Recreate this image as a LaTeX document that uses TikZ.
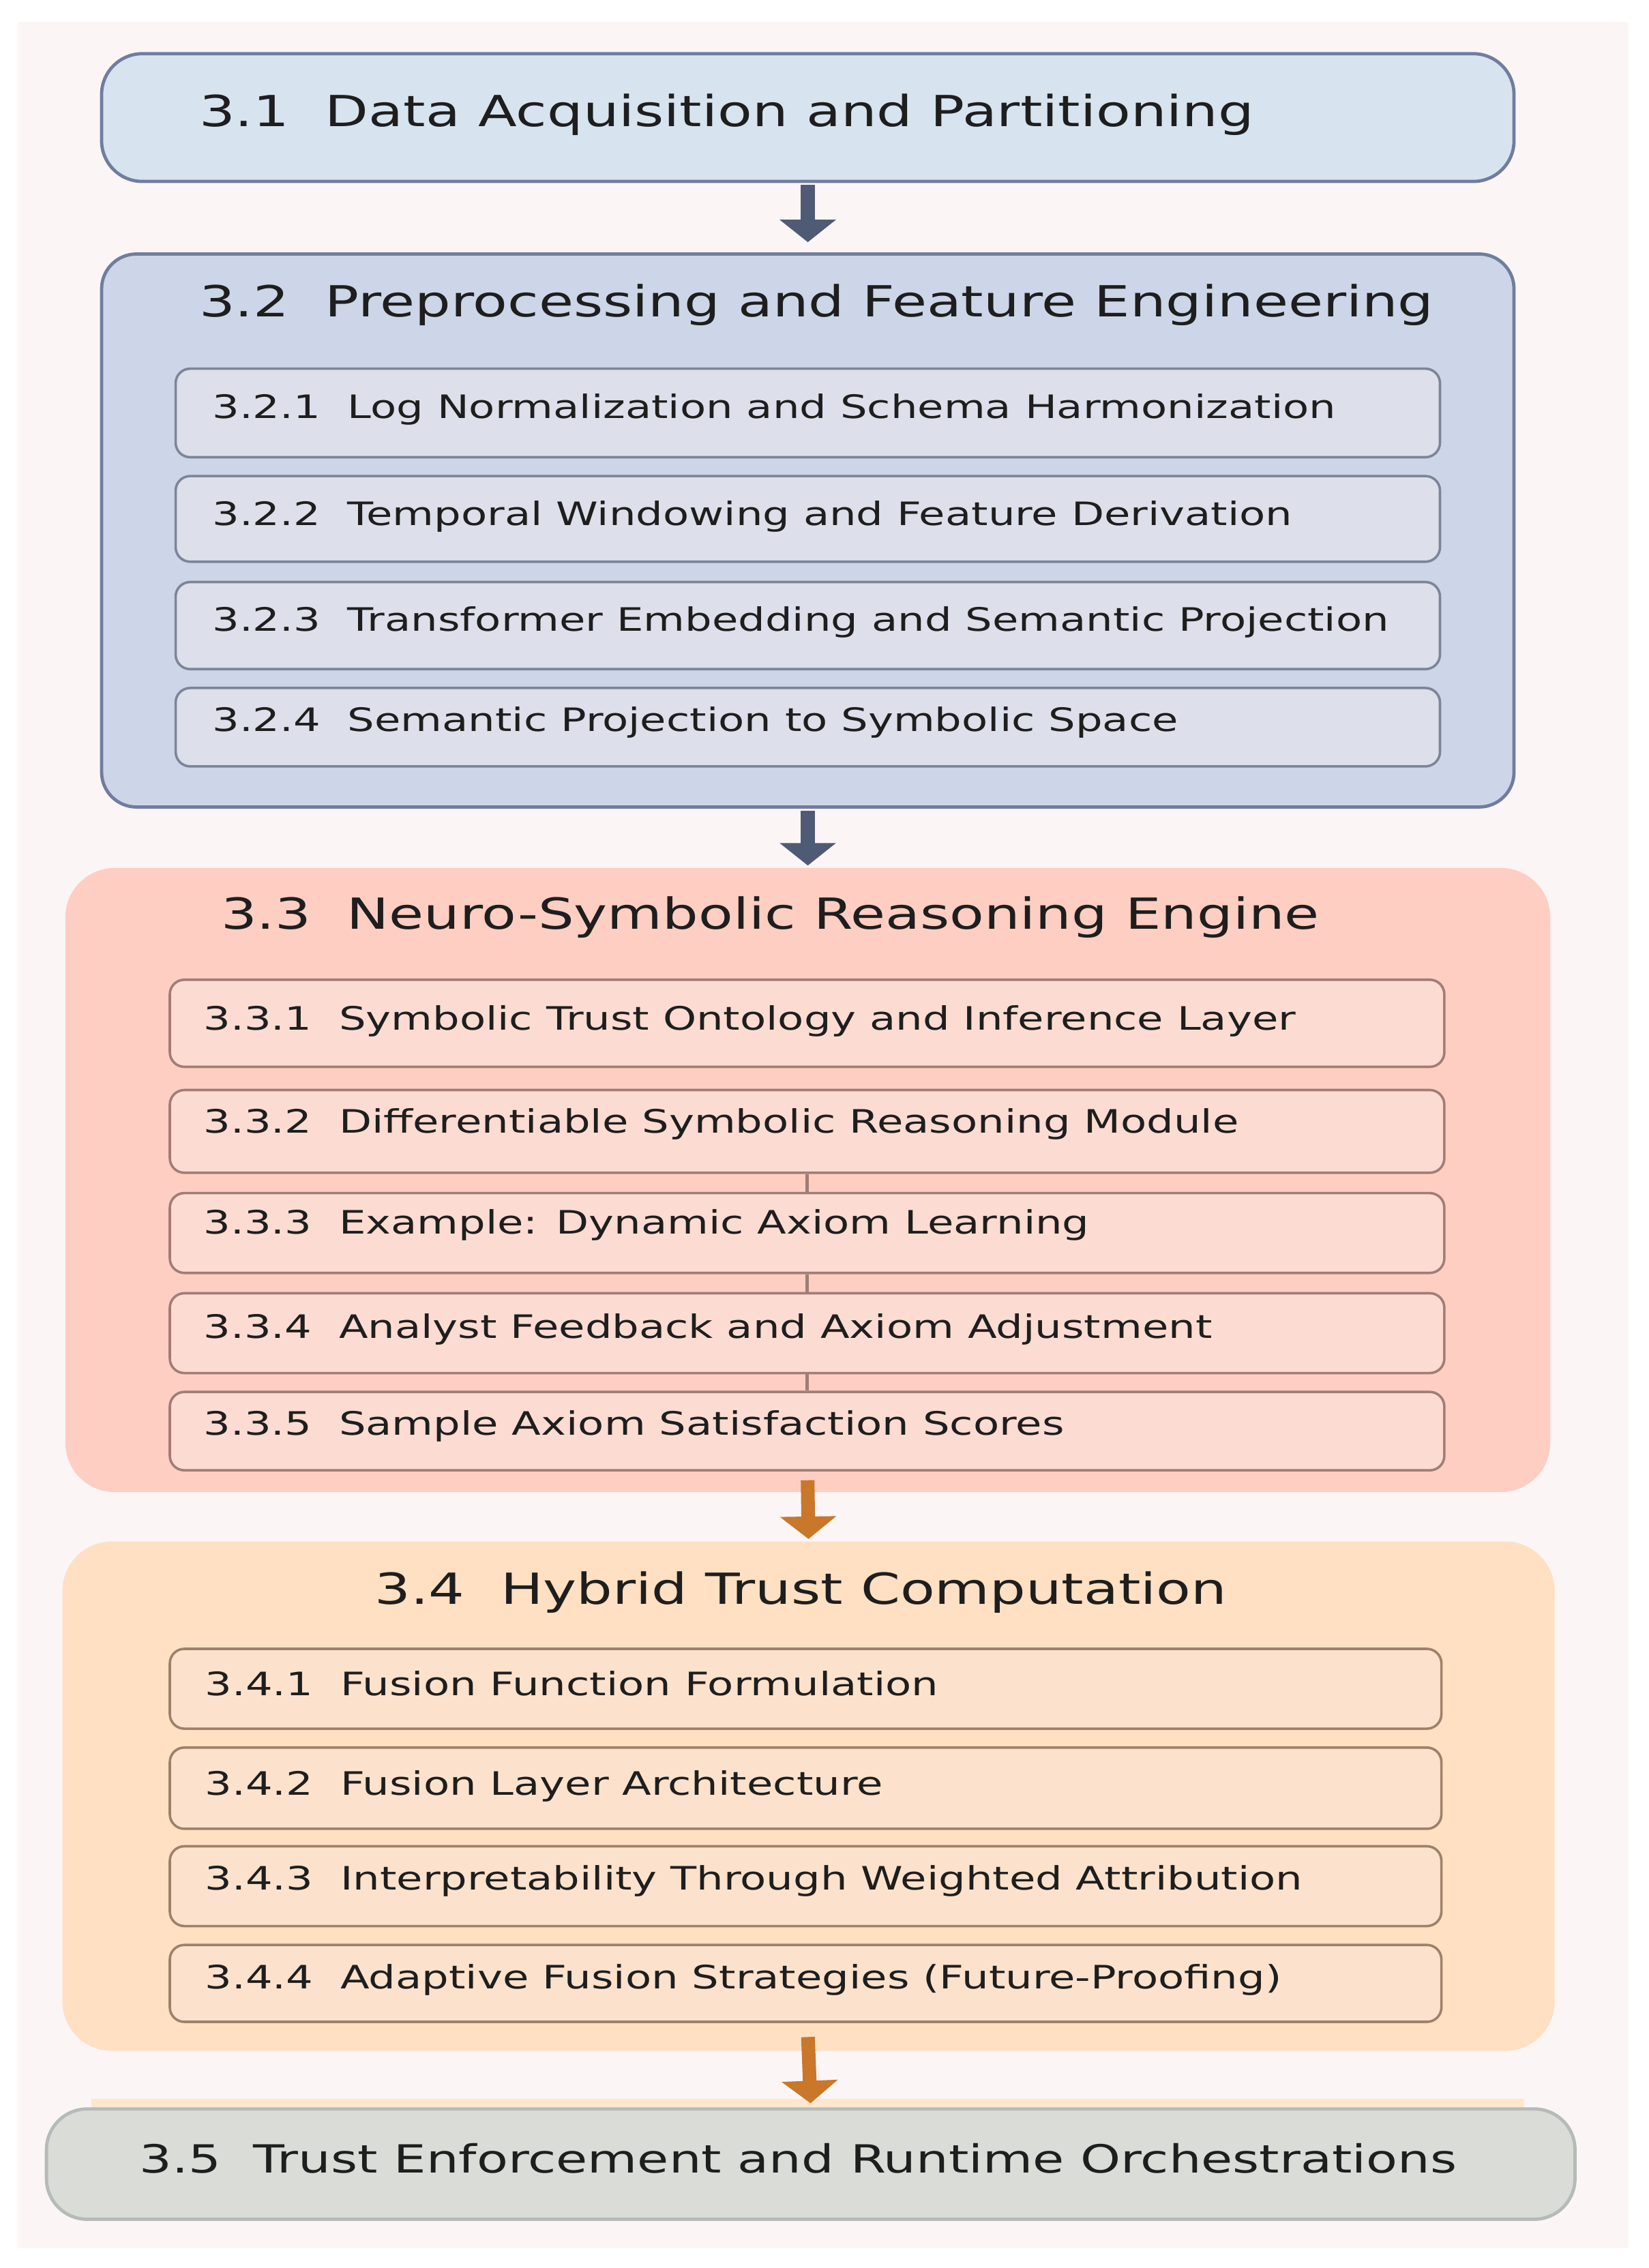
\documentclass[tikz,border=0pt]{standalone}
\usepackage{fontspec}
\setmainfont{DejaVu Sans}[FakeStretch=1.32]
\usetikzlibrary{arrows.meta,fit}
\definecolor{pagebg}{HTML}{FCF5F6}
\definecolor{bluefill}{HTML}{D8E3F0}
\definecolor{bluedeep}{HTML}{CDD6E8}
\definecolor{blueline}{HTML}{6F7E9E}
\definecolor{bluesub}{HTML}{DDE0EB}
\definecolor{bluesubline}{HTML}{7D8599}
\definecolor{salmonfill}{HTML}{FECEC3}
\definecolor{salmonsub}{HTML}{FCDCD2}
\definecolor{salmonline}{HTML}{A07D75}
\definecolor{peachfill}{HTML}{FFE0C2}
\definecolor{peachsub}{HTML}{FCE2CC}
\definecolor{peachline}{HTML}{9E8169}
\definecolor{greyfill}{HTML}{D9DCD7}
\definecolor{greyline}{HTML}{B5BBB8}
\definecolor{slatearrow}{HTML}{4F5A75}
\definecolor{orangearrow}{HTML}{C8772B}
\definecolor{inktext}{HTML}{1E1E1E}
\begin{document}
\begin{tikzpicture}[x=0.025cm,y=-0.025cm,
  mainbox/.style={inner sep=0pt, rounded corners=0.7cm},
  subbox/.style={inner sep=0pt, rounded corners=0.25cm, line width=1.2pt},
  title/.style={anchor=base west, inner sep=0pt, text=inktext, font=\fontsize{21}{25}\selectfont},
  subtitle/.style={anchor=base west, inner sep=0pt, text=inktext, font=\fontsize{15.8}{19}\selectfont},
  flow/.style={line width=6.7pt, -{Triangle[width=27pt,length=11pt]}},
  tick/.style={salmonline, line width=1.5pt}]
  \useasboundingbox (0,0) rectangle (1136,1562.6);
  \fill[white] (0,0) rectangle (1136,1562.6);
  \fill[pagebg] (12,15) rectangle (1122,1549);

  % 3.1
  \node[mainbox, draw=blueline, line width=1.6pt, fill=bluefill, fit={(70,37) (1043,125)}] (b31) {};
  \node[title] (t31) at (137,87) {3.1\ \ Data Acquisition and Partitioning};

  % 3.2
  \node[mainbox, rounded corners=0.6cm, draw=blueline, line width=1.6pt, fill=bluedeep, fit={(70,175) (1043,556)}] (b32) {};
  \node[title] (t32) at (137,218) {3.2\ \ Preprocessing and Feature Engineering};
  \foreach \n/\top/\bot/\base/\txt in {
      321/254/315/288/{3.2.1\ \ Log Normalization and Schema Harmonization},
      322/328/387/362/{3.2.2\ \ Temporal Windowing and Feature Derivation},
      323/401/461/435/{3.2.3\ \ Transformer Embedding and Semantic Projection},
      324/474/528/504/{3.2.4\ \ Semantic Projection to Symbolic Space}}
  {
    \node[subbox, draw=bluesubline, fill=bluesub, fit={(121,\top) (992,\bot)}] (s\n) {};
    \node[subtitle] (t\n) at (146,\base) {\txt};
  }

  % 3.3
  \node[mainbox, rounded corners=0.85cm, fill=salmonfill, fit={(45,598) (1068,1028)}] (b33) {};
  \node[title] (t33) at (152,640) {3.3\ \ Neuro-Symbolic Reasoning Engine};
  \foreach \n/\top/\bot/\base/\txt in {
      331/675/735/709.5/{3.3.1\ \ Symbolic Trust Ontology and Inference Layer},
      332/751/808/780.7/{3.3.2\ \ Differentiable Symbolic Reasoning Module},
      333/822/877/850.2/{3.3.3\ \ Example: Dynamic Axiom Learning},
      334/891/946/922.2/{3.3.4\ \ Analyst Feedback and Axiom Adjustment},
      335/959/1013/988.7/{3.3.5\ \ Sample Axiom Satisfaction Scores}}
  {
    \node[subbox, draw=salmonline, fill=salmonsub, fit={(117,\top) (995,\bot)}] (s\n) {};
    \node[subtitle] (t\n) at (140,\base) {\txt};
  }
  \draw[tick] (s332.south) -- (s333.north);
  \draw[tick] (s333.south) -- (s334.north);
  \draw[tick] (s334.south) -- (s335.north);

  % 3.4
  \node[mainbox, rounded corners=0.85cm, fill=peachfill, fit={(43,1062) (1071,1413)}] (b34) {};
  \node[title] (t34) at (258,1105) {3.4\ \ Hybrid Trust Computation};
  \foreach \n/\top/\bot/\base/\txt in {
      341/1136/1191/1168/{3.4.1\ \ Fusion Function Formulation},
      342/1204/1260/1237/{3.4.2\ \ Fusion Layer Architecture},
      343/1272/1327/1302/{3.4.3\ \ Interpretability Through Weighted Attribution},
      344/1340/1393/1370/{3.4.4\ \ Adaptive Fusion Strategies (Future-Proofing)}}
  {
    \node[subbox, draw=peachline, fill=peachsub, fit={(117,\top) (993,\bot)}] (s\n) {};
    \node[subtitle] (t\n) at (141,\base) {\txt};
  }

  % 3.5
  \fill[peachfill!80!white] (63,1446) rectangle (1050,1453);
  \node[mainbox, draw=greyline, line width=1.6pt, fill=greyfill, fit={(32,1453) (1085,1529)}] (b35) {};
  \node[title, font=\fontsize{19}{23}\selectfont] (t35) at (96,1497) {3.5\ \ Trust Enforcement and Runtime Orchestrations};

  % arrows
  \draw[flow, slatearrow, shorten <=1pt, shorten >=5pt] (b31.south) -- (b32.north);
  \draw[flow, slatearrow, shorten <=1pt, shorten >=1pt] (b32.south) -- (b33.north);
  \draw[flow, orangearrow, shorten <=-6pt, shorten >=1pt] (b33.south) -- (b34.north);
  \draw[flow, orangearrow, shorten <=-7pt, shorten >=2pt] (b34.south) -- (b35.north);
\end{tikzpicture}
\end{document}
